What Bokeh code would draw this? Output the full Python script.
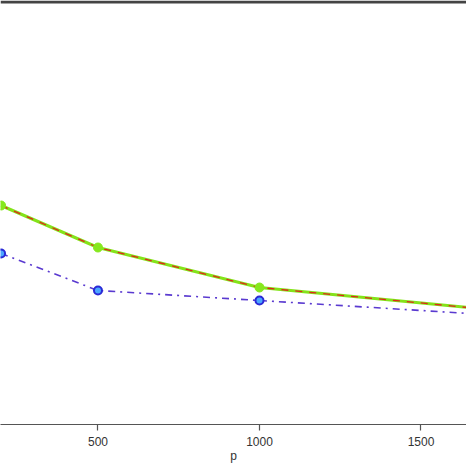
from bokeh.plotting import figure
from bokeh.models import Range1d, FixedTicker, Span
from bokeh.embed import file_html
from bokeh.resources import INLINE

# data (y in arbitrary units, y-axis not visible in crop)
p_vals = [200, 500, 1000, 2000]
series_a = [0.219, 0.177, 0.137, 0.106]   # green / red dashed
series_b = [0.171, 0.134, 0.124, 0.104]   # blue dash-dot
x_ticks = [500, 1000, 1500]
x_label = "p"

p = figure(width=466, height=466, output_backend="svg", toolbar_location=None,
           x_range=Range1d(198.2, 1640.9), y_range=Range1d(0, 0.424),
           y_axis_location=None,
           min_border_left=0, min_border_right=0, min_border_top=0, min_border_bottom=42)
p.outline_line_color = None
p.xgrid.grid_line_color = None
p.ygrid.grid_line_color = None
p.background_fill_color = "white"
p.border_fill_color = "white"

# top frame edge of the cropped box
p.add_layout(Span(location=0.4225, dimension="width", line_color="#444444", line_width=3))

# series A: green solid with red dashes on top
p.line(p_vals, series_a, line_color="#84e31a", line_width=3)
p.line(p_vals, series_a, line_color="#e0261a", line_width=1.3, line_dash="7 7")
p.scatter(p_vals, series_a, size=9, fill_color="#86e81e", line_color="#86e81e")

# series B: blue dash-dot
p.line(p_vals, series_b, line_color="#5a3ad0", line_width=1.6, line_dash="7 5 2 5")
p.scatter(p_vals, series_b, size=8, fill_color="#4ca6ff", line_color="#2a2ad6", line_width=2)

ax = p.xaxis[0]
ax.ticker = FixedTicker(ticks=x_ticks)
ax.axis_line_color = "#555555"
ax.axis_line_width = 1.2
ax.major_tick_line_color = "#555555"
ax.major_tick_line_width = 1.2
ax.major_tick_in = 0
ax.major_tick_out = 6
ax.minor_tick_line_color = None
ax.major_label_standoff = 6
ax.major_label_text_font = "Liberation Sans"
ax.major_label_text_font_size = "12px"
ax.major_label_text_color = "#333333"
ax.axis_label = x_label
ax.axis_label_text_font = "Liberation Sans"
ax.axis_label_text_font_style = "normal"
ax.axis_label_text_font_size = "12px"
ax.axis_label_text_color = "#333333"
ax.axis_label_standoff = 0

open("out.html", "w").write(file_html(p, INLINE))
